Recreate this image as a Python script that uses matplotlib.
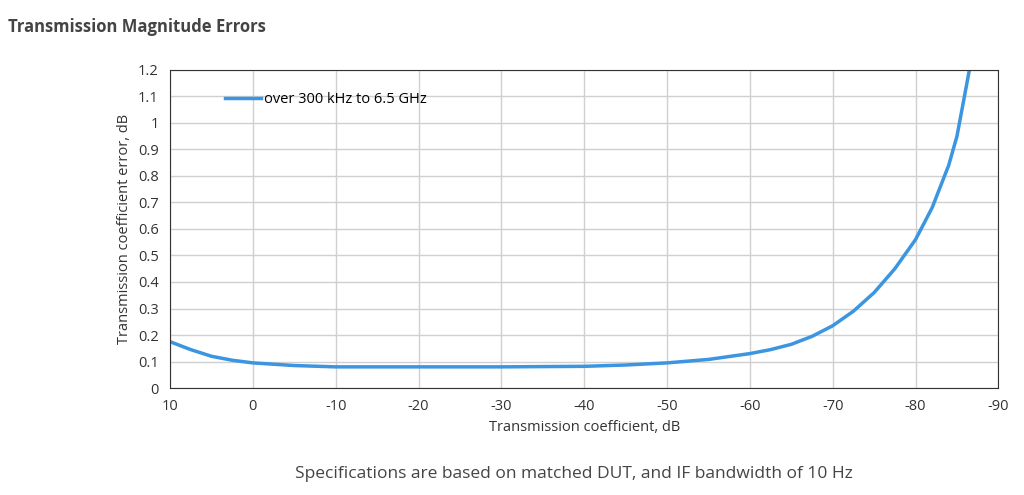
import matplotlib.pyplot as plt
import numpy as np

plt.rcParams['axes.unicode_minus'] = False
plt.rcParams['font.family'] = ['Open Sans', 'DejaVu Sans']

coef = [10, 7.5, 5, 2.5, 0, -5, -10, -20, -30, -40, -45, -50, -55, -60, -62.5, -65, -67.5, -70,
        -72.5, -75, -77.5, -80, -82, -84, -85, -86.5]
err = [0.175, 0.145, 0.12, 0.105, 0.095, 0.085, 0.08, 0.08, 0.08, 0.082, 0.087, 0.095, 0.108, 0.13,
       0.145, 0.165, 0.195, 0.235, 0.29, 0.36, 0.45, 0.56, 0.68, 0.84, 0.95, 1.2]

fig = plt.figure(figsize=(10.24, 4.95), dpi=100)
ax = fig.add_axes([0.166, 0.216, 0.809, 0.643])

ax.plot(coef, err, color='#3b95e0', lw=2.5, label='over 300 kHz to 6.5 GHz')

ax.set_xlim(10, -90)
ax.set_ylim(0, 1.2)
ax.set_xticks(np.arange(10, -91, -10))
ax.set_yticks(np.arange(0, 1.21, 0.1))
ax.set_yticklabels(['0', '0.1', '0.2', '0.3', '0.4', '0.5', '0.6', '0.7', '0.8', '0.9', '1', '1.1', '1.2'])
ax.grid(True, color='#d0d0d0', lw=1)
ax.tick_params(length=0, labelsize=10.5, colors='#333333', pad=8)
for s in ax.spines.values():
    s.set_color('#333333')

ax.set_xlabel('Transmission coefficient, dB', fontsize=10.5, color='#333333')
ax.set_ylabel('Transmission coefficient error, dB', fontsize=10.5, color='#333333')
ax.legend(loc='upper left', bbox_to_anchor=(0.05, 0.97), frameon=False, fontsize=10.5,
          handlelength=2.5, handletextpad=0.2)

fig.text(0.008, 0.935, 'Transmission Magnitude Errors', fontsize=12, fontweight='bold', color='#444444')
fig.text(0.56, 0.035, 'Specifications are based on matched DUT, and IF bandwidth of 10 Hz',
         fontsize=12.5, color='#444444', ha='center')

fig.savefig('out.png')
